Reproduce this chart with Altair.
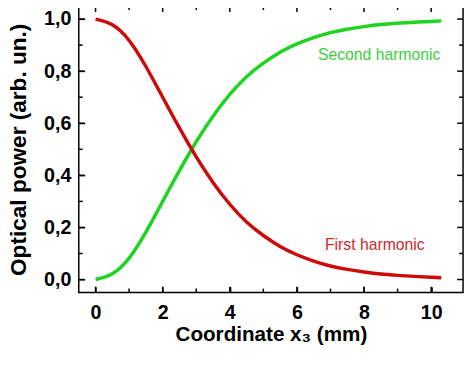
import altair as alt
import pandas as pd

# ---- data ----
x_mm = [0, 0.5, 1, 1.5, 2, 2.5, 3, 3.5, 4, 4.5, 5, 5.5, 6, 6.5, 7, 7.5, 8, 8.5, 9, 9.5, 10, 10.3]
second_harmonic = [0.000, 0.022, 0.082, 0.182, 0.300, 0.418, 0.529, 0.627, 0.711, 0.779, 0.831,
                   0.873, 0.905, 0.929, 0.948, 0.961, 0.971, 0.979, 0.984, 0.988, 0.991, 0.993]
first_harmonic = [1.000, 0.978, 0.918, 0.818, 0.700, 0.582, 0.471, 0.373, 0.289, 0.221, 0.169,
                  0.127, 0.095, 0.071, 0.052, 0.039, 0.029, 0.021, 0.016, 0.012, 0.009, 0.007]
series_names = ["Second harmonic", "First harmonic"]
line_colors = ["#1ed41e", "#cc0a0a"]

label_text = ["Second harmonic", "First harmonic"]
label_x = [8.45, 8.32]
label_y = [0.841, 0.113]
label_colors = ["#3ccf3c", "#cc2a2a"]

x_major = [0, 2, 4, 6, 8, 10]
x_minor = [1, 3, 5, 7, 9]
y_major = [0.0, 0.2, 0.4, 0.6, 0.8, 1.0]
y_minor = [0.1, 0.3, 0.5, 0.7, 0.9]

x_title = "Coordinate x\u2083 (mm)"
y_title = "Optical power (arb. un.)"

FONT = "Liberation Sans"
W = 391
H = 291.5
MAJOR = 6
MINOR = 4
X_DOM = [-0.5, 10.95]
Y_DOM = [-0.05, 1.05]

rows = []
for name, vals in zip(series_names, [second_harmonic, first_harmonic]):
    for xv, yv in zip(x_mm, vals):
        rows.append({"x": xv, "y": yv, "series": name})
df = pd.DataFrame(rows)

xscale = alt.Scale(domain=X_DOM, nice=False, zero=False)
yscale = alt.Scale(domain=Y_DOM, nice=False, zero=False)

# inward-pointing ticks: axis line moved into the plot by the tick length
X_AXIS = alt.Axis(orient="bottom", values=x_major, tickSize=MAJOR, offset=-MAJOR,
                  domain=False, grid=False, ticks=True, tickColor="black", tickWidth=1.5,
                  labels=True, format="d", labelFont=FONT, labelFontSize=20,
                  labelFontWeight="bold", labelColor="black", labelPadding=10,
                  labelFlush=False, titleFont=FONT, titleFontSize=21,
                  titleFontWeight="bold", titleColor="black", titlePadding=2)
Y_AXIS = alt.Axis(orient="left", values=y_major, tickSize=MAJOR, offset=-MAJOR,
                  domain=False, grid=False, ticks=True, tickColor="black", tickWidth=1.5,
                  labels=True, labelExpr="replace(format(datum.value, '.1f'), '.', ',')",
                  labelFont=FONT, labelFontSize=20, labelFontWeight="bold",
                  labelColor="black", labelPadding=8, labelFlush=False,
                  titleFont=FONT, titleFontSize=23, titleFontWeight="bold",
                  titleColor="black", titlePadding=13)


def X(field):
    return alt.X(field, scale=xscale, axis=X_AXIS, title=x_title)


def Y(field):
    return alt.Y(field, scale=yscale, axis=Y_AXIS, title=y_title)


main = alt.Chart(df).mark_line(strokeWidth=3.5, interpolate="natural").encode(
    x=X("x:Q"),
    y=Y("y:Q"),
    color=alt.Color("series:N", scale=alt.Scale(domain=series_names, range=line_colors), legend=None),
    detail="series:N",
)

# tick lengths converted from pixels to data units of each scale
dy_per_px = (Y_DOM[1] - Y_DOM[0]) / H
dx_per_px = (X_DOM[1] - X_DOM[0]) / W

tick_rows_x = []
for v in x_major:
    tick_rows_x.append({"x": v, "y": Y_DOM[0], "y2": Y_DOM[0] + MAJOR * dy_per_px})
    tick_rows_x.append({"x": v, "y": Y_DOM[1], "y2": Y_DOM[1] - MAJOR * dy_per_px})
for v in x_minor:
    tick_rows_x.append({"x": v, "y": Y_DOM[0], "y2": Y_DOM[0] + MINOR * dy_per_px})
    tick_rows_x.append({"x": v, "y": Y_DOM[1], "y2": Y_DOM[1] - MINOR * dy_per_px})

tick_rows_y = []
for v in y_major:
    tick_rows_y.append({"y": v, "x": X_DOM[0], "x2": X_DOM[0] + MAJOR * dx_per_px})
    tick_rows_y.append({"y": v, "x": X_DOM[1], "x2": X_DOM[1] - MAJOR * dx_per_px})
for v in y_minor:
    tick_rows_y.append({"y": v, "x": X_DOM[0], "x2": X_DOM[0] + MINOR * dx_per_px})
    tick_rows_y.append({"y": v, "x": X_DOM[1], "x2": X_DOM[1] - MINOR * dx_per_px})

ticks_x = alt.Chart(pd.DataFrame(tick_rows_x)).mark_rule(color="black", strokeWidth=1.5).encode(
    x=X("x:Q"), y=Y("y:Q"), y2="y2:Q")
ticks_y = alt.Chart(pd.DataFrame(tick_rows_y)).mark_rule(color="black", strokeWidth=1.5).encode(
    y=Y("y:Q"), x=X("x:Q"), x2="x2:Q")

texts = []
for t, lx, ly, c in zip(label_text, label_x, label_y, label_colors):
    tdf = pd.DataFrame({"x": [lx], "y": [ly], "label": [t]})
    texts.append(
        alt.Chart(tdf).mark_text(font=FONT, fontSize=16, color=c, align="center",
                                 baseline="alphabetic").encode(
            x=X("x:Q"),
            y=Y("y:Q"),
            text="label:N",
        )
    )

chart = alt.layer(main, ticks_x, ticks_y, *texts).properties(
    width=W, height=H,
    padding={"left": 72, "top": -5, "right": 3, "bottom": 60},
    autosize=alt.AutoSizeParams(type="none"),
    background="white",
).configure_view(stroke="black", strokeWidth=1.5)

chart.save("out.html", embed_options={"renderer": "svg", "actions": False})
